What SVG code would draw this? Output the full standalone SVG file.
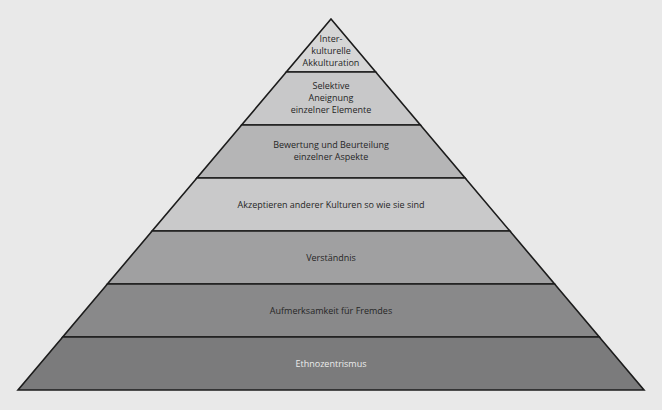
<svg xmlns="http://www.w3.org/2000/svg" width="662" height="410" viewBox="0 0 662 410">
<style>
.layer{stroke:#1c1c1c;stroke-width:1.6;stroke-linejoin:miter}
.t{font-family:"Open Sans","Liberation Sans",sans-serif;font-size:9px;fill:#262626;text-anchor:middle}
.w{fill:#ececec}
</style>
<rect x="0" y="0" width="662" height="410" fill="#e9e9e9"/>
<g id="l1"><polygon class="layer" fill="#d6d6d6" points="331,19 375.7,72 286.3,72"/>
<text class="t" x="331" y="42">Inter-</text><text class="t" x="331" y="54">kulturelle</text><text class="t" x="331" y="66">Akkulturation</text></g>
<g id="l2"><polygon class="layer" fill="#c8c8c9" points="286.3,72 375.7,72 420.4,125 241.6,125"/>
<text class="t" x="331" y="89">Selektive</text><text class="t" x="331" y="101">Aneignung</text><text class="t" x="331" y="113">einzelner Elemente</text></g>
<g id="l3"><polygon class="layer" fill="#b5b5b6" points="241.6,125 420.4,125 465.1,178 196.9,178"/>
<text class="t" x="331" y="148">Bewertung und Beurteilung</text><text class="t" x="331" y="160">einzelner Aspekte</text></g>
<g id="l4"><polygon class="layer" fill="#c9c9ca" points="196.9,178 465.1,178 509.9,231 152.1,231"/>
<text class="t" x="331" y="208">Akzeptieren anderer Kulturen so wie sie sind</text></g>
<g id="l5"><polygon class="layer" fill="#a0a0a1" points="152.1,231 509.9,231 554.6,284 107.4,284"/>
<text class="t" x="331" y="261">Verständnis</text></g>
<g id="l6"><polygon class="layer" fill="#89898a" points="107.4,284 554.6,284 599.3,337 62.7,337"/>
<text class="t" x="331" y="314">Aufmerksamkeit für Fremdes</text></g>
<g id="l7"><polygon class="layer" fill="#7b7b7c" points="62.7,337 599.3,337 644,390 18,390"/>
<text class="t w" x="331" y="367">Ethnozentrismus</text></g>
</svg>
